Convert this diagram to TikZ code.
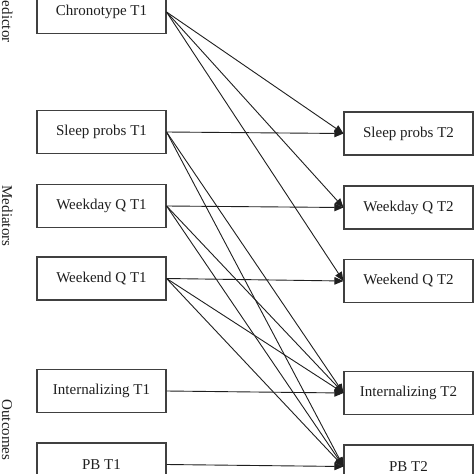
\documentclass[tikz,border=0pt]{standalone}
\usepackage{fontspec}
\setmainfont{Liberation Serif}
\usetikzlibrary{arrows.meta}
\definecolor{boxc}{gray}{0.25}
\definecolor{linec}{gray}{0.12}
\definecolor{txtc}{gray}{0.12}
\begin{document}
\begin{tikzpicture}[x=1pt,y=-1pt,
  box/.style={draw=boxc, line width=1.1pt, minimum width=129pt, minimum height=43pt, inner sep=0pt, text=txtc, font=\fontsize{15}{18}\selectfont},
  lab/.style={rotate=-90, anchor=base, text=txtc, font=\fontsize{15}{18}\selectfont, inner sep=0pt},
  arr/.style={draw=linec, line width=0.9pt, -{Triangle[length=9pt,width=7.5pt]}}]
\useasboundingbox (0,0) rectangle (474,474);
\fill[white] (0,0) rectangle (474,474);
% side labels
\node[lab] (pl) at (2,15) {Predictor};
\node[lab] (ml) at (2,216) {Mediators};
\node[lab] (ol) at (2,430) {Outcomes};
% left column
\node[box] (c1) at (101.5,12) {Chronotype T1};
\node[box] (s1) at (101.5,132) {Sleep probs T1};
\node[box] (d1) at (101.5,206) {Weekday Q T1};
\node[box] (e1) at (101.5,278.5) {Weekend Q T1};
\node[box] (i1) at (101.5,391) {Internalizing T1};
\node[box] (p1) at (101.5,464.5) {PB T1};
% right column
\node[box] (s2) at (408.5,133.5) {Sleep probs T2};
\node[box] (d2) at (408.5,207.5) {Weekday Q T2};
\node[box] (e2) at (408.5,281) {Weekend Q T2};
\node[box] (i2) at (408.5,393) {Internalizing T2};
\node[box] (p2) at (408.5,466.5) {PB T2};
% connectors
\draw[arr] (c1.east) -- (s2.west);
\draw[arr] (c1.east) -- (d2.west);
\draw[arr] (c1.east) -- (e2.west);
\draw[arr] (s1.east) -- (s2.west);
\draw[arr] (s1.east) -- (i2.west);
\draw[arr] (s1.east) -- (p2.west);
\draw[arr] (d1.east) -- (d2.west);
\draw[arr] (d1.east) -- (i2.west);
\draw[arr] (d1.east) -- (p2.west);
\draw[arr] (e1.east) -- (e2.west);
\draw[arr] (e1.east) -- (i2.west);
\draw[arr] (e1.east) -- (p2.west);
\draw[arr] (i1.east) -- (i2.west);
\draw[arr] (p1.east) -- (p2.west);
\end{tikzpicture}
\end{document}
